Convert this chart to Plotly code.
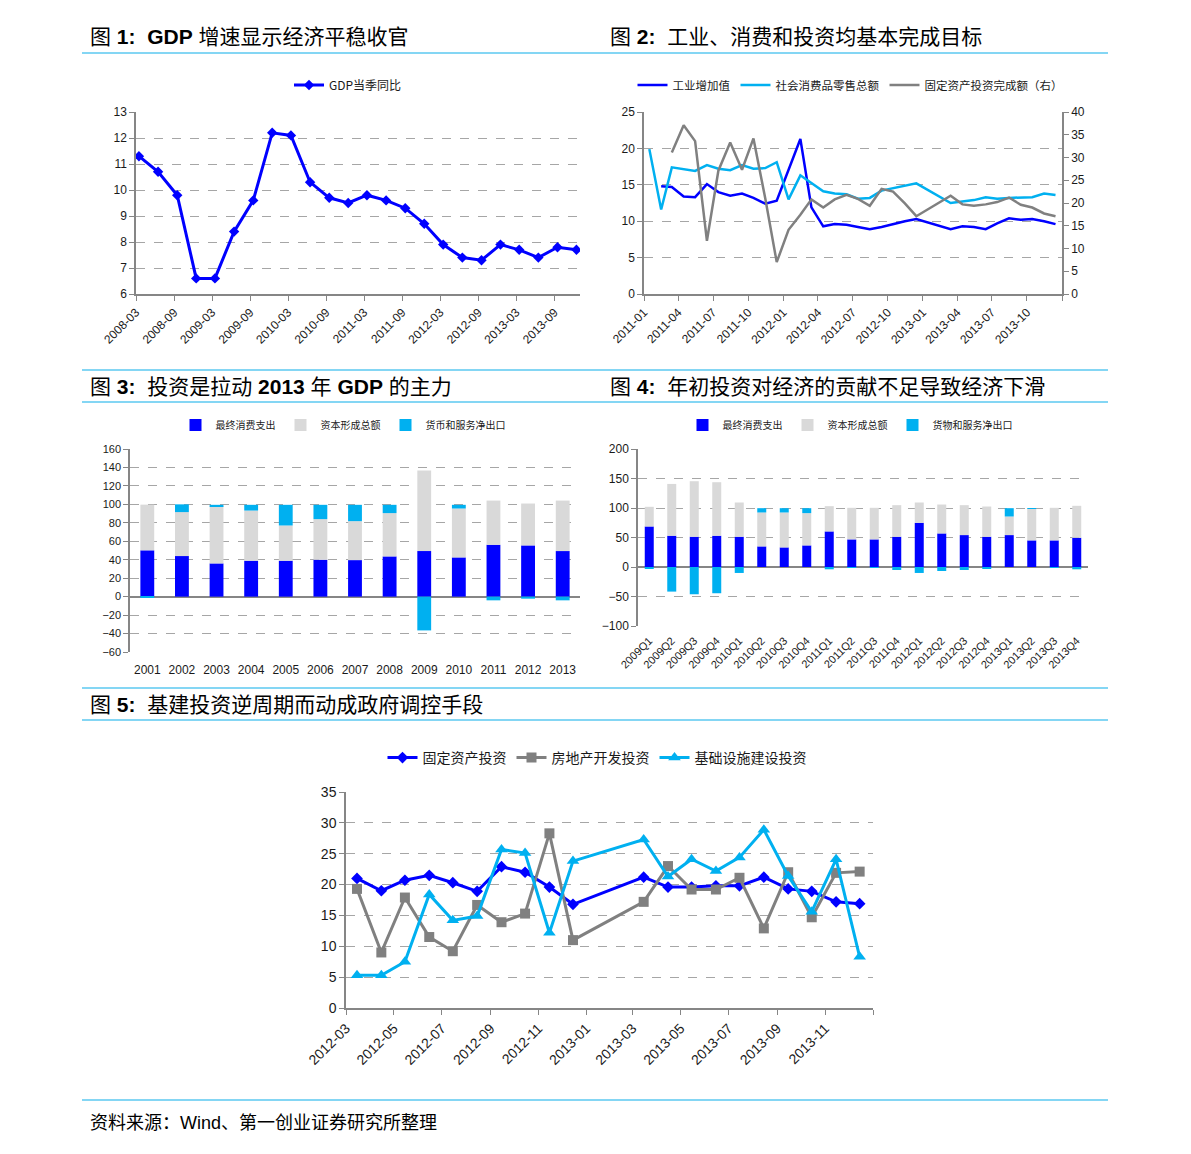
import plotly.graph_objects as go

W, H = 1191, 1154


def px(x):
    return x / W


def py(y):
    return 1 - y / H


# ---------------- Chart 1: GDP quarterly yoy ----------------
gdp_quarters = ["2008-03", "2008-06", "2008-09", "2008-12", "2009-03", "2009-06", "2009-09", "2009-12",
                "2010-03", "2010-06", "2010-09", "2010-12", "2011-03", "2011-06", "2011-09", "2011-12",
                "2012-03", "2012-06", "2012-09", "2012-12", "2013-03", "2013-06", "2013-09", "2013-12"]
gdp_yoy = [11.3, 10.7, 9.8, 6.6, 6.6, 8.4, 9.6, 12.2, 12.1, 10.3, 9.7, 9.5, 9.8, 9.6, 9.3, 8.7,
           7.9, 7.4, 7.3, 7.9, 7.7, 7.4, 7.8, 7.7]
gdp_ticks = ["2008-03", "2008-09", "2009-03", "2009-09", "2010-03", "2010-09", "2011-03", "2011-09",
             "2012-03", "2012-09", "2013-03", "2013-09"]

# ---------------- Chart 2: monthly indicators ----------------
months2 = [f"{y}-{m:02d}" for y in (2011, 2012, 2013) for m in range(1, 13)]
ind_value_added = [None, 14.8, 14.7, 13.4, 13.3, 15.1, 14.0, 13.5, 13.8, 13.2, 12.4, 12.8,
                   None, 21.3, 11.9, 9.3, 9.6, 9.5, 9.2, 8.9, 9.2, 9.6, 10.0, 10.3,
                   None, None, 8.9, 9.3, 9.2, 8.9, 9.7, 10.4, 10.2, 10.3, 10.0, 9.6]
retail_sales = [19.9, 11.6, 17.4, 17.1, 16.9, 17.7, 17.2, 17.0, 17.7, 17.2, 17.3, 18.1,
                13.0, 16.3, 15.2, 14.1, 13.8, 13.7, 13.1, 13.2, 14.2, 14.5, 14.9, 15.2,
                None, None, 12.5, 12.7, 12.9, 13.3, 13.1, 13.2, 13.3, 13.3, 13.8, 13.6]
fixed_invest = [None, None, 31.1, 37.1, 33.6, 11.7, 27.1, 33.3, 27.3, 34.2, 21.0, 7.0,
                14.1, 17.4, 20.8, 19.0, 20.8, 21.8, 20.9, 19.4, 23.1, 22.5, 19.9, 17.1,
                None, None, 21.6, 19.7, 19.4, 19.7, 20.2, 21.2, 19.6, 19.0, 17.7, 17.1]
ticks2 = ["2011-01", "2011-04", "2011-07", "2011-10", "2012-01", "2012-04", "2012-07", "2012-10",
          "2013-01", "2013-04", "2013-07", "2013-10", "2014-01"]

# ---------------- Chart 3: annual contributions ----------------
years3 = ["2001", "2002", "2003", "2004", "2005", "2006", "2007", "2008", "2009", "2010", "2011", "2012", "2013"]
consumption3 = [50.2, 44.0, 36.0, 38.9, 38.9, 40.0, 39.6, 43.6, 49.4, 42.5, 56.2, 55.5, 49.4]
capital3 = [49.5, 47.6, 62.0, 54.4, 38.2, 44.0, 42.2, 46.9, 87.2, 53.0, 47.9, 45.4, 54.7]
netexport3 = [-1.0, 8.4, 1.5, 6.2, 22.4, 15.5, 17.7, 9.0, -36.6, 4.0, -4.0, -2.2, -4.0]

# ---------------- Chart 4: quarterly contributions ----------------
quarters4 = ["2009Q1", "2009Q2", "2009Q3", "2009Q4", "2010Q1", "2010Q2", "2010Q3", "2010Q4",
             "2011Q1", "2011Q2", "2011Q3", "2011Q4", "2012Q1", "2012Q2", "2012Q3", "2012Q4",
             "2013Q1", "2013Q2", "2013Q3", "2013Q4"]
consumption4 = [68.7, 53.0, 51.3, 53.0, 51.3, 34.9, 33.2, 36.6, 60.3, 46.8, 46.8, 51.3,
                74.9, 56.9, 54.1, 51.3, 54.1, 45.1, 45.1, 49.6]
capital4 = [33.3, 87.8, 94.1, 90.7, 58.0, 57.5, 59.2, 54.7, 42.8, 53.5, 53.5, 53.5,
            34.4, 49.0, 50.7, 51.2, 31.5, 53.5, 55.2, 54.1]
netexport4 = [-2.3, -41.7, -46.2, -44.5, -10.1, 7.3, 7.3, 8.4, -3.9, -0.3, -1.0, -5.1,
              -10.1, -6.8, -5.1, -2.3, 14.1, 1.2, -1.7, -3.9]

# ---------------- Chart 5: investment growth ----------------
months5 = ["2012-03", "2012-04", "2012-05", "2012-06", "2012-07", "2012-08", "2012-09", "2012-10",
           "2012-11", "2012-12", "2013-01", "2013-02", "2013-03", "2013-04", "2013-05", "2013-06",
           "2013-07", "2013-08", "2013-09", "2013-10", "2013-11", "2013-12"]
fai5 = [21.0, 19.0, 20.7, 21.5, 20.3, 18.9, 22.9, 22.0, 19.6, 16.8, None, None,
        21.2, 19.6, 19.6, 19.8, 19.8, 21.2, 19.3, 18.9, 17.2, 16.9]
realestate5 = [19.3, 9.0, 17.9, 11.5, 9.2, 16.7, 13.9, 15.3, 28.3, 11.0, None, None,
               17.2, 23.0, 19.2, 19.2, 21.1, 12.9, 22.0, 14.7, 21.9, 22.1]
infra5 = [5.3, 5.3, 7.5, 18.4, 14.2, 14.9, 25.7, 25.1, 12.2, 23.8, None, None,
          27.3, 21.3, 24.1, 22.2, 24.4, 28.9, 21.4, 15.6, 24.1, 8.3]
ticks5 = ["2012-03", "2012-05", "2012-07", "2012-09", "2012-11", "2013-01", "2013-03", "2013-05",
          "2013-07", "2013-09", "2013-11", "2014-01"]

BLUE = "#0000FF"
LBLUE = "#00B0F0"
GRAY = "#808080"
LGRAY = "#D9D9D9"
AXC = "#868686"
GRIDC = "#A6A6A6"
TXT = "#1a1a1a"
FONT = "Liberation Sans, Arial, Noto Sans CJK SC, sans-serif"
CJK = "Noto Sans CJK SC, Liberation Sans, sans-serif"


def mid(m):
    return m + "-15"


def start(m):
    return m + "-01"


fig = go.Figure()

# Chart 1
fig.add_trace(go.Scatter(
    x=[mid(q) for q in gdp_quarters], y=gdp_yoy, name="GDP当季同比", mode="lines+markers",
    line=dict(color=BLUE, width=3), marker=dict(symbol="diamond", size=8, color=BLUE),
    xaxis="x", yaxis="y", legend="legend"))

# Chart 2
fig.add_trace(go.Scatter(
    x=[mid(m) for m in months2], y=ind_value_added, name="工业增加值", mode="lines",
    line=dict(color=BLUE, width=2.5), connectgaps=True, xaxis="x2", yaxis="y2", legend="legend2"))
fig.add_trace(go.Scatter(
    x=[mid(m) for m in months2], y=retail_sales, name="社会消费品零售总额", mode="lines",
    line=dict(color=LBLUE, width=2.5), connectgaps=True, xaxis="x2", yaxis="y2", legend="legend2"))
fig.add_trace(go.Scatter(
    x=[mid(m) for m in months2], y=fixed_invest, name="固定资产投资完成额（右）", mode="lines",
    line=dict(color=GRAY, width=2.5), connectgaps=True, xaxis="x2", yaxis="y3", legend="legend2"))

# Chart 3
fig.add_trace(go.Bar(x=years3, y=consumption3, name="最终消费支出", marker=dict(color=BLUE, line=dict(width=0)),
                     xaxis="x3", yaxis="y4", legend="legend3"))
fig.add_trace(go.Bar(x=years3, y=capital3, name="资本形成总额", marker=dict(color=LGRAY, line=dict(width=0)),
                     xaxis="x3", yaxis="y4", legend="legend3"))
fig.add_trace(go.Bar(x=years3, y=netexport3, name="货币和服务净出口", marker=dict(color=LBLUE, line=dict(width=0)),
                     xaxis="x3", yaxis="y4", legend="legend3"))

# Chart 4
fig.add_trace(go.Bar(x=quarters4, y=consumption4, name="最终消费支出", marker=dict(color=BLUE, line=dict(width=0)),
                     xaxis="x4", yaxis="y5", legend="legend4"))
fig.add_trace(go.Bar(x=quarters4, y=capital4, name="资本形成总额", marker=dict(color=LGRAY, line=dict(width=0)),
                     xaxis="x4", yaxis="y5", legend="legend4"))
fig.add_trace(go.Bar(x=quarters4, y=netexport4, name="货物和服务净出口", marker=dict(color=LBLUE, line=dict(width=0)),
                     xaxis="x4", yaxis="y5", legend="legend4"))

# Chart 5
fig.add_trace(go.Scatter(
    x=[mid(m) for m in months5], y=fai5, name="固定资产投资", mode="lines+markers", connectgaps=True,
    line=dict(color=BLUE, width=3), marker=dict(symbol="diamond", size=9, color=BLUE),
    xaxis="x5", yaxis="y6", legend="legend5"))
fig.add_trace(go.Scatter(
    x=[mid(m) for m in months5], y=realestate5, name="房地产开发投资", mode="lines+markers", connectgaps=True,
    line=dict(color=GRAY, width=3), marker=dict(symbol="square", size=10, color=GRAY),
    xaxis="x5", yaxis="y6", legend="legend5"))
fig.add_trace(go.Scatter(
    x=[mid(m) for m in months5], y=infra5, name="基础设施建设投资", mode="lines+markers", connectgaps=True,
    line=dict(color=LBLUE, width=3), marker=dict(symbol="triangle-up", size=11, color=LBLUE),
    xaxis="x5", yaxis="y6", legend="legend5"))


def xdate(domain, anchor, rng, ticks, labels, size):
    return dict(domain=domain, anchor=anchor, type="date", range=rng,
                tickvals=[start(t) for t in ticks], ticktext=labels, tickangle=-45,
                showline=True, linecolor=AXC, linewidth=1.5, ticks="outside", ticklen=5,
                tickcolor=AXC, showgrid=False, zeroline=False, automargin=False,
                tickfont=dict(family=FONT, size=size, color=TXT))


def yax(domain, anchor, rng, dtick, size, grid=True):
    return dict(domain=domain, anchor=anchor, range=rng, dtick=dtick, showline=True, linecolor=AXC,
                linewidth=1.5, ticks="outside", ticklen=5, tickcolor=AXC, showgrid=grid,
                gridcolor=GRIDC, griddash="dash", gridwidth=1, zeroline=False, automargin=False,
                tickfont=dict(family=FONT, size=size, color=TXT))


lab2 = [t for t in ticks2[:-1]] + [""]
lab5 = [t for t in ticks5[:-1]] + [""]

layout = dict(
    width=W, height=H, margin=dict(l=0, r=0, t=0, b=0, pad=0, autoexpand=False),
    paper_bgcolor="white", plot_bgcolor="rgba(0,0,0,0)",
    barmode="relative", bargap=0.6,
    font=dict(family=FONT, color=TXT),
    xaxis=xdate([px(136), px(580)], "y", ["2008-03-01", "2014-01-01"], gdp_ticks, gdp_ticks, 12),
    yaxis=yax([py(294), py(112)], "x", [6, 13], 1, 12),
    xaxis2=xdate([px(644), px(1062)], "y2", ["2011-01-01", "2014-01-01"], ticks2, lab2, 12),
    yaxis2=yax([py(294), py(112)], "x2", [0, 25], 5, 12),
    yaxis3=dict(yax([py(294), py(112)], "x2", [0, 40], 5, 12, grid=False), overlaying="y2", side="right"),
    xaxis3=dict(domain=[px(130), px(580)], anchor="y4", type="category", showline=False, ticks="outside",
                ticklen=7, tickcolor="rgba(0,0,0,0)",
                showgrid=False, automargin=False, tickfont=dict(family=FONT, size=12, color=TXT)),
    yaxis4=dict(yax([py(652), py(449)], "x3", [-60, 160], 20, 11), zeroline=True, zerolinecolor=AXC,
                zerolinewidth=1.5),
    xaxis4=dict(domain=[px(638), px(1088)], anchor="y5", type="category", showline=False, ticks="outside",
                ticklen=3, tickcolor="rgba(0,0,0,0)",
                showgrid=False, automargin=False, tickangle=-45,
                tickfont=dict(family=FONT, size=11, color=TXT)),
    yaxis5=dict(yax([py(626), py(449)], "x4", [-100, 200], 50, 12), zeroline=True, zerolinecolor=AXC,
                zerolinewidth=1.5),
    xaxis5=xdate([px(346), px(873)], "y6", ["2012-03-01", "2014-01-01"], ticks5, lab5, 14),
    yaxis6=yax([py(1008), py(792)], "x5", [0, 35], 5, 14),
    showlegend=True,
    legend=dict(orientation="h", x=px(348), y=py(85), xanchor="center", yanchor="middle",
                font=dict(family=CJK, size=12, color=TXT), bgcolor="rgba(0,0,0,0)"),
    legend2=dict(orientation="h", x=px(850), y=py(85), xanchor="center", yanchor="middle",
                 font=dict(family=CJK, size=11.5, color=TXT), bgcolor="rgba(0,0,0,0)"),
    legend3=dict(orientation="h", x=px(343), y=py(425), xanchor="center", yanchor="middle",
                 font=dict(family=CJK, size=10, color=TXT), bgcolor="rgba(0,0,0,0)", traceorder="normal",
                 itemwidth=30),
    legend4=dict(orientation="h", x=px(850), y=py(425), xanchor="center", yanchor="middle",
                 font=dict(family=CJK, size=10, color=TXT), bgcolor="rgba(0,0,0,0)", traceorder="normal",
                 itemwidth=30),
    legend5=dict(orientation="h", x=px(597), y=py(758), xanchor="center", yanchor="middle",
                 font=dict(family=CJK, size=14, color=TXT), bgcolor="rgba(0,0,0,0)"),
)

title_font = dict(family=FONT, size=21, color="#000")
titles = [
    (88, 37, "图 <b>1:</b>  <b>GDP</b> 增速显示经济平稳收官"),
    (608, 37, "图 <b>2:</b>  工业、消费和投资均基本完成目标"),
    (88, 386, "图 <b>3:</b>  投资是拉动 <b>2013</b> 年 <b>GDP</b> 的主力"),
    (608, 386, "图 <b>4:</b>  年初投资对经济的贡献不足导致经济下滑"),
    (88, 704, "图 <b>5:</b>  基建投资逆周期而动成政府调控手段"),
]
annotations = [dict(x=px(x), y=py(y), xref="paper", yref="paper", xanchor="left", yanchor="middle",
                    text=t, showarrow=False, font=title_font) for x, y, t in titles]
annotations.append(dict(x=px(88), y=py(1123), xref="paper", yref="paper", xanchor="left", yanchor="middle",
                        text="资料来源：Wind、第一创业证券研究所整理", showarrow=False,
                        font=dict(family=FONT, size=18, color="#000")))

LINEC = "#5BC8F0"
shapes = [dict(type="line", xref="paper", yref="paper", x0=px(82), x1=px(1108), y0=py(yy), y1=py(yy),
               line=dict(color=LINEC, width=1.5)) for yy in (53, 370, 402, 688, 720, 1100)]

layout["annotations"] = annotations
layout["shapes"] = shapes
fig.update_layout(**layout)

fig.write_html("out.html")
